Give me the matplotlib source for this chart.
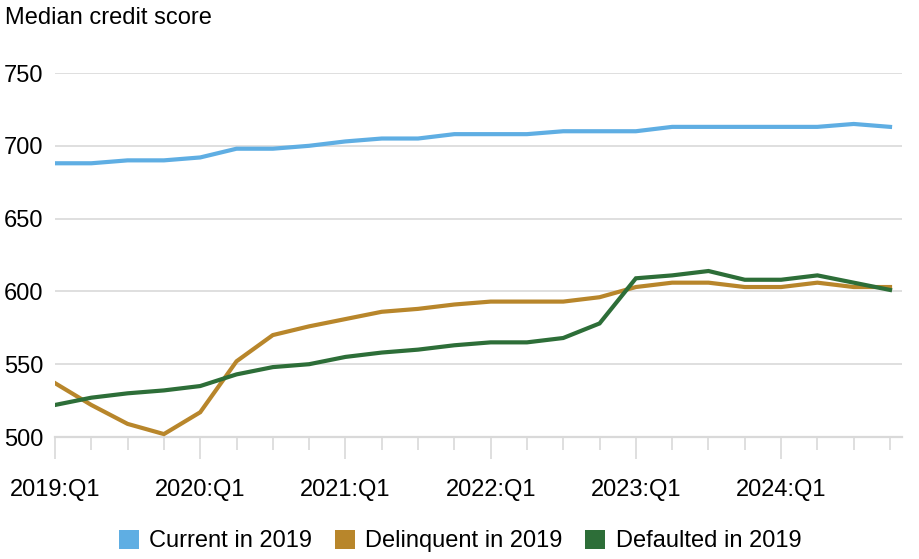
import matplotlib.pyplot as plt
from matplotlib.patches import Patch
from matplotlib.ticker import FixedLocator, NullFormatter

# === Данные (медианный кредитный рейтинг по кварталам 2019:Q1 - 2024:Q4) ===
quarters = list(range(24))
tick_pos = [0, 4, 8, 12, 16, 20]
tick_labels = ["2019:Q1", "2020:Q1", "2021:Q1", "2022:Q1", "2023:Q1", "2024:Q1"]

current = [688, 688, 690, 690, 692, 698, 698, 700, 703, 705, 705, 708,
           708, 708, 710, 710, 710, 713, 713, 713, 713, 713, 715, 713]
delinquent = [537, 522, 509, 502, 517, 552, 570, 576, 581, 586, 588, 591,
              593, 593, 593, 596, 603, 606, 606, 603, 603, 606, 603, 603]
defaulted = [522, 527, 530, 532, 535, 543, 548, 550, 555, 558, 560, 563,
             565, 565, 568, 578, 609, 611, 614, 608, 608, 611, 606, 601]

names = ["Current in 2019", "Delinquent in 2019", "Defaulted in 2019"]
colors = ["#5FAEE3", "#B8862B", "#2D6E38"]
grey = "#D9D9D9"

plt.rcParams['font.family'] = ['Liberation Sans', 'DejaVu Sans']
fs = 17

# === Фигура ===
fig = plt.figure(figsize=(9.2, 5.59), dpi=100)
ax = fig.add_axes([55 / 920, 1 - 437 / 559, (902 - 55) / 920, (437 - 73) / 559])

for vals, c in zip([current, delinquent, defaulted], colors):
    ax.plot(quarters, vals, color=c, lw=3, solid_joinstyle='miter', zorder=3)

ax.set_xlim(0, 23.33)
ax.set_ylim(500, 750)
ax.set_yticks([500, 550, 600, 650, 700, 750])
ax.yaxis.grid(True, color=grey, lw=1.2)
ax.set_axisbelow(True)

# оси
for s in ["left", "right", "top"]:
    ax.spines[s].set_visible(False)
ax.spines["bottom"].set_color(grey)
ax.spines["bottom"].set_linewidth(1.6)

ax.tick_params(axis='y', length=0, pad=8.5, labelsize=fs)
ax.set_xticks(tick_pos)
ax.set_xticklabels(tick_labels)
ax.xaxis.set_minor_locator(FixedLocator([q for q in quarters if q not in tick_pos]))
ax.xaxis.set_minor_formatter(NullFormatter())
ax.tick_params(axis='x', which='major', direction='out', length=16, width=1.2,
               color=grey, pad=14, labelsize=fs)
ax.tick_params(axis='x', which='minor', direction='out', length=9.5, width=1.2,
               color=grey)

fig.text(5 / 920, 1 - 7 / 559, "Median credit score", fontsize=fs, ha='left', va='top')

handles = [Patch(facecolor=c, edgecolor='none') for c in colors]
fig.legend(handles, names, loc='center', bbox_to_anchor=(0.5, 1 - 541 / 559),
           ncol=3, frameon=False, fontsize=fs, handlelength=0.85, handleheight=0.85,
           handletextpad=0.45, columnspacing=0.95)

fig.savefig("out.png", dpi=100)
